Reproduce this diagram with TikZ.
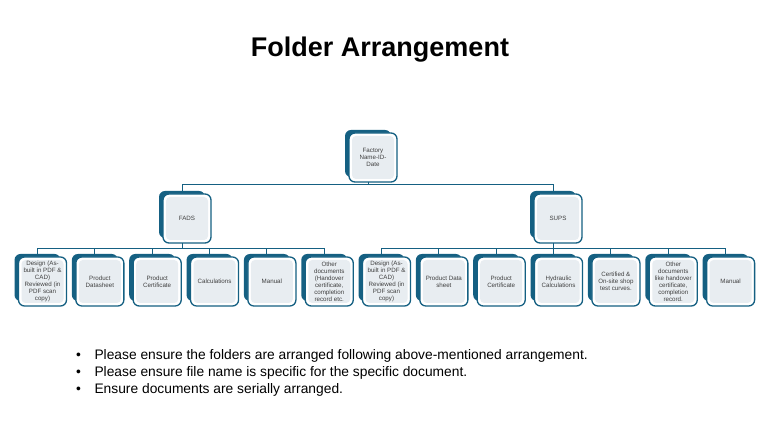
\documentclass[tikz,border=0pt]{standalone}
\usepackage{fontspec}
\setmainfont{Liberation Sans}
\usepackage{xcolor}
\definecolor{fteal}{RGB}{21,96,130}
\definecolor{finner}{RGB}{232,237,241}
\definecolor{ftext}{RGB}{64,64,64}
\usepackage{tikz}
\usetikzlibrary{positioning, backgrounds}
\newcommand{\boxfont}{\fontsize{6.2}{7}\selectfont}

\tikzset{
  backbox/.style={fill=fteal, rounded corners=6pt, minimum width=46pt, minimum height=47pt, inner sep=0pt},
  frontbox/.style={draw=fteal, line width=1.3pt, fill=white, rounded corners=6pt,
    minimum width=48pt, minimum height=49pt, inner sep=0pt, align=center, font=\boxfont, text=ftext,
    path picture={\fill[finner, rounded corners=4pt]
      ([shift={(3pt,-3pt)}]path picture bounding box.north west) rectangle
      ([shift={(-3pt,3pt)}]path picture bounding box.south east);}},
  conn/.style={draw=fteal, line width=0.9pt}
}

\begin{document}
\begin{tikzpicture}[x=1pt, y=1pt]
  \useasboundingbox (0,0) rectangle (768,433);

  % Title
  \node[font=\fontsize{27}{32}\selectfont\bfseries, anchor=base] (title) at (380,376) {Folder Arrangement};

  % Root
  \node[backbox] (rootb) at (368,279.5) {};
  \node[frontbox] (root) at (373,275.5) {Factory\\Name-ID-\\Date};

  % Level 2
  \node[backbox] (fadsb) at (182,218.5) {};
  \node[frontbox] (fads) at (187,214.5) {FADS};
  \node[backbox] (supsb) at (553,218.5) {};
  \node[frontbox] (sups) at (558,214.5) {SUPS};

  % FADS folders
  \node[backbox] (fa1b) at (37.5,155.5) {};
  \node[frontbox] (fa1) at (42.5,151.5) {Design (As-\\built in PDF \&\\CAD)\\Reviewed (in\\PDF scan\\copy)};
  \node[backbox] (fa2b) at (94.85,155.5) {};
  \node[frontbox] (fa2) at (99.85,151.5) {Product\\Datasheet};
  \node[backbox] (fa3b) at (152.2,155.5) {};
  \node[frontbox] (fa3) at (157.2,151.5) {Product\\Certificate};
  \node[backbox] (fa4b) at (209.55,155.5) {};
  \node[frontbox] (fa4) at (214.55,151.5) {Calculations};
  \node[backbox] (fa5b) at (266.9,155.5) {};
  \node[frontbox] (fa5) at (271.9,151.5) {Manual};
  \node[backbox] (fa6b) at (324.25,155.5) {};
  \node[frontbox] (fa6) at (329.25,151.5) {Other\\documents\\(Handover\\certificate,\\completion\\record etc.};

  % SUPS folders
  \node[backbox] (su1b) at (381.5,155.5) {};
  \node[frontbox] (su1) at (386.5,151.5) {Design (As-\\built in PDF \&\\CAD)\\Reviewed (in\\PDF scan\\copy)};
  \node[backbox] (su2b) at (438.85,155.5) {};
  \node[frontbox] (su2) at (443.85,151.5) {Product Data\\sheet};
  \node[backbox] (su3b) at (496.2,155.5) {};
  \node[frontbox] (su3) at (501.2,151.5) {Product\\Certificate};
  \node[backbox] (su4b) at (553.55,155.5) {};
  \node[frontbox] (su4) at (558.55,151.5) {Hydraulic\\Calculations};
  \node[backbox] (su5b) at (610.9,155.5) {};
  \node[frontbox] (su5) at (615.9,151.5) {Certified \&\\On-site shop\\test curves.};
  \node[backbox] (su6b) at (668.25,155.5) {};
  \node[frontbox] (su6) at (673.25,151.5) {Other\\documents\\like handover\\certificate,\\completion\\record.};
  \node[backbox] (su7b) at (725.6,155.5) {};
  \node[frontbox] (su7) at (730.6,151.5) {Manual};

  % Connectors
  \coordinate (bus0) at (0,249);
  \coordinate (bus1) at (0,184.5);
  \begin{scope}[on background layer]
    \fill[white] (0,0) rectangle (768,433);
    \draw[conn] (rootb.center) -- (rootb.center |- bus0) -| (fadsb.center);
    \draw[conn] (rootb.center) -- (rootb.center |- bus0) -| (supsb.center);
    \foreach \c in {fa1b,fa2b,fa3b,fa4b,fa5b,fa6b}
      \draw[conn] (fadsb.center) -- (fadsb.center |- bus1) -| (\c.center);
    \foreach \c in {su1b,su2b,su3b,su4b,su5b,su6b,su7b}
      \draw[conn] (supsb.center) -- (supsb.center |- bus1) -| (\c.center);
  \end{scope}

  % Notes
  \node[anchor=north west, inner sep=0pt, font=\fontsize{13.8}{17}\selectfont] (notes) at (76,86) {%
    \begin{tabular}{@{}l@{\hspace{13.5pt}}l@{}}
      \textbullet & Please ensure the folders are arranged following above-mentioned arrangement.\\
      \textbullet & Please ensure file name is specific for the specific document.\\
      \textbullet & Ensure documents are serially arranged.
    \end{tabular}};
\end{tikzpicture}
\end{document}
